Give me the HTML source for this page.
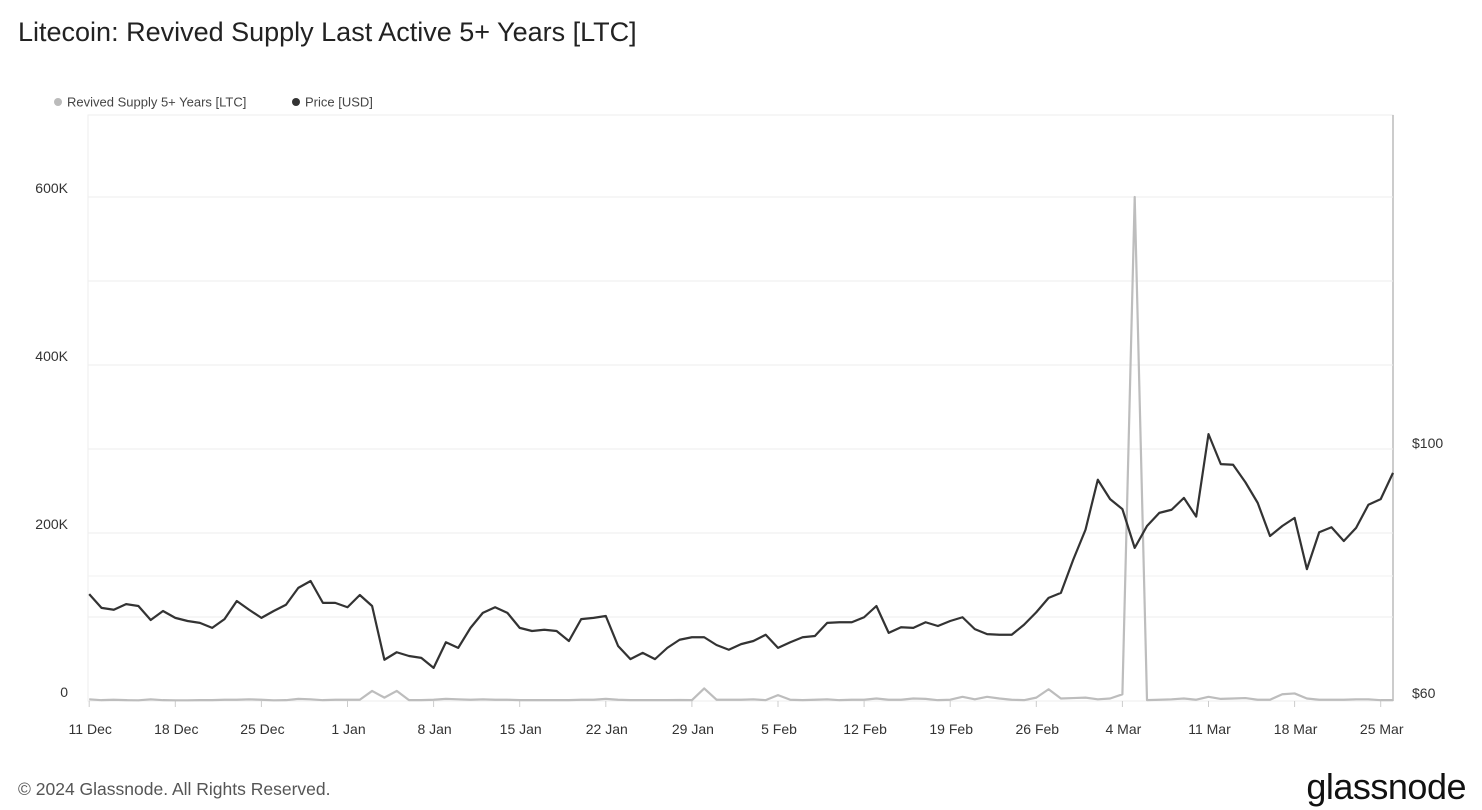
<!DOCTYPE html>
<html><head><meta charset="utf-8"><style>
body{margin:0;background:#fff;font-family:"Liberation Sans",sans-serif;}
#wrap{position:relative;width:1482px;height:810px;overflow:hidden;}
</style></head><body>
<div id="wrap">
<svg id="chart" width="1482" height="810" xmlns="http://www.w3.org/2000/svg"></svg>
</div>
<script>
const startDate = [2023, 11, 11];
const dayCount = 107;
const xTickLabels = ["11 Dec","18 Dec","25 Dec","1 Jan","8 Jan","15 Jan","22 Jan","29 Jan","5 Feb","12 Feb","19 Feb","26 Feb","4 Mar","11 Mar","18 Mar","25 Mar"];
const leftTicks = [0, 200000, 400000, 600000];
const leftTickLabels = ["0","200K","400K","600K"];
const leftGrid = [100000,200000,300000,400000,500000,600000];
const rightTicks = [60, 100];
const rightTickLabels = ["$60","$100"];
const priceValues = [77.1,74.9,74.6,75.5,75.2,72.96,74.4,73.3,72.8,72.5,71.7,73.1,76.0,74.6,73.3,74.4,75.4,78.1,79.2,75.7,75.7,75.0,76.96,75.2,66.6,67.8,67.2,66.9,65.3,69.4,68.5,71.7,74.1,75.0,74.1,71.7,71.2,71.4,71.2,69.6,73.1,73.3,73.6,68.8,66.7,67.7,66.7,68.5,69.8,70.2,70.2,68.96,68.2,69.1,69.6,70.6,68.5,69.4,70.2,70.4,72.5,72.6,72.6,73.4,75.2,70.9,71.8,71.7,72.6,72.0,72.8,73.4,71.5,70.7,70.6,70.6,72.2,74.2,76.5,77.3,82.6,87.4,95.4,92.3,90.7,84.5,88.0,90.1,90.6,92.5,89.5,102.7,97.9,97.8,95.0,91.7,86.4,88.0,89.3,81.1,87.0,87.8,85.6,87.7,91.4,92.3,96.5];
const supplyValues = [2000,1000,1500,1000,800,2000,1000,800,800,1000,1000,1500,1500,2000,1500,800,1000,2500,2000,1000,1500,1500,1500,12000,4000,12000,1000,1000,1500,2500,2000,1500,2000,1500,1500,1000,1000,1000,1000,1000,1500,1500,2500,1500,1000,1000,1000,1000,1200,1000,15000,1500,1500,1500,2000,1000,7000,1500,1000,1500,2000,1000,1500,1500,3000,1500,1500,3000,2500,1000,1500,5000,2000,5000,3000,1500,1000,4000,14000,3000,3500,4000,2000,3000,8000,600000,1000,1500,2000,3000,1500,5000,2500,3000,3500,1500,1500,8000,9000,3000,1500,1500,1500,2000,2000,1000,1000];

const svg = document.getElementById('chart');
const NS = 'http://www.w3.org/2000/svg';
const X0 = 89.2, X1 = 1393, YB = 701;
function xScale(i){ return X0 + (X1 - X0) * i / (dayCount - 1); }
function yLeft(v){ return YB - v * 168 / 200000; }
function yRight(p){ return YB - (p - 60) * 6.25; }
function mk(tag, attrs, parent){ const e = document.createElementNS(NS, tag); for (const k in attrs) e.setAttribute(k, attrs[k]); (parent||svg).appendChild(e); return e; }

let t = mk('text',{x:18,y:41,'font-size':27,fill:'#222','font-family':'Liberation Sans, sans-serif'});
t.textContent = 'Litecoin: Revived Supply Last Active 5+ Years [LTC]';



const leg = mk('g',{});


const legItems = [["Revived Supply 5+ Years [LTC]","#bbb",58],["Price [USD]","#333",296]];
legItems.forEach(function(it){
  const g = mk('g',{},leg);
  
  
  mk('circle',{cx:it[2],cy:102,r:4,fill:it[1]},g);
  const tx = mk('text',{x:it[2]+9,y:106.5,'font-size':13,fill:'#444'},g);
  tx.textContent = it[0];
});

const frame = mk('rect',{x:88,y:115,width:1305,height:586,fill:'none',stroke:'#eee'});


const rb = mk('line',{x1:1393,y1:115,x2:1393,y2:701,stroke:'#bbb','stroke-width':1.5});



leftGrid.forEach(function(v){
  const l = mk('line',{x1:88,x2:1393,y1:yLeft(v),y2:yLeft(v),stroke:'#eee'});
  
  
});
const l2 = mk('line',{x1:88,x2:1393,y1:yRight(80),y2:yRight(80),stroke:'#f2f2f2'});



leftTicks.forEach(function(v,i){
  const tx = mk('text',{x:68,y:yLeft(v)-4,'font-size':14,fill:'#333','text-anchor':'end'});
  tx.textContent = leftTickLabels[i];
  
  
});
rightTicks.forEach(function(v,i){
  const tx = mk('text',{x:1412,y:yRight(v)-3,'font-size':14,fill:'#333'});
  tx.textContent = rightTickLabels[i];
  
  
});
xTickLabels.forEach(function(lab,k){
  const x = xScale(k*7);
  const tl = mk('line',{x1:x,x2:x,y1:701,y2:707,stroke:'#ccc'});
  
  
  const tx = mk('text',{x:x+1,y:734,'font-size':14,fill:'#333','text-anchor':'middle'});
  tx.textContent = lab;
  
  
});

const sp = mk('polyline',{points:supplyValues.map(function(v,i){return xScale(i)+','+yLeft(v);}).join(' '),fill:'none',stroke:'#bdbdbd','stroke-width':2.2,'stroke-linejoin':'round'});


const pp = mk('polyline',{points:priceValues.map(function(v,i){return xScale(i)+','+yRight(v);}).join(' '),fill:'none',stroke:'#333','stroke-width':2.2,'stroke-linejoin':'round'});



const ft = mk('text',{x:18,y:795,'font-size':17.5,fill:'#555'});
ft.textContent = '© 2024 Glassnode. All Rights Reserved.';


const lg = mk('text',{x:1466,y:799,'font-size':36,fill:'#111','text-anchor':'end','letter-spacing':'-0.5'});
lg.textContent = 'glassnode';


</script>
</body></html>
